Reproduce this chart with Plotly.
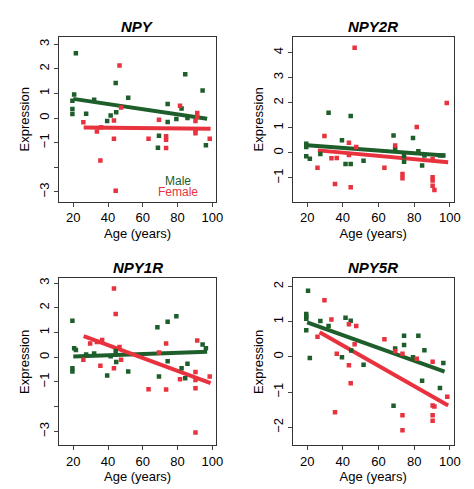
import plotly.graph_objects as go

GREEN = "#1d5e2b"
RED = "#e8333f"

# ---- data ----
npy_m_age = [19.5, 19.5, 19.5, 20.5, 21.5, 27.4, 32, 39.5, 41.5, 44.4, 44.7, 51.6, 68.7, 69.3, 74.3, 74.3, 79.3, 82.3, 84.4, 85.7, 94.4, 96.3]
npy_m_val = [0.17, 0.37, 0.7, 0.96, 2.63, 0.18, 0.74, -0.12, 0.1, 1.42, 0.24, 0.83, -1.21, -0.72, 0.57, -0.16, -0.04, 0.39, 1.78, 0.0, 1.12, -1.1]
npy_f_age = [25.8, 33.6, 36, 35.6, 43.4, 43.4, 46.6, 44.4, 47.5, 63.3, 69.3, 73.4, 73.4, 73.4, 81.4, 90.3, 90.3, 90.3, 91.3, 91.3, 98.5]
npy_f_val = [-0.17, -0.55, -0.37, -1.72, -0.1, -0.84, 2.13, -2.95, 0.43, -0.84, -0.07, -0.74, -0.88, -1.22, 0.5, -0.49, -0.62, -0.12, 0.21, 0.04, -0.84]
npy_m_fit = ([20, 97], [0.78, -0.03])
npy_f_fit = ([26, 99], [-0.38, -0.43])

npy2r_m_age = [19.5, 19.5, 19.5, 21.5, 27.4, 32, 39.5, 41.5, 44.4, 44.4, 51.6, 68.4, 69.3, 74.3, 74.3, 79.3, 82.3, 84.4, 85.7, 94.4, 96.3]
npy2r_m_val = [0.36, 0.23, -0.13, -0.23, -0.04, 1.6, 0.5, -0.44, 1.47, -0.44, -0.31, 0.69, 0.16, -0.13, -0.35, 0.59, 0.07, -0.5, -0.1, -0.1, -0.1]
npy2r_f_age = [25.8, 29.7, 33.6, 35.6, 36.6, 43.4, 43.4, 44.4, 46.6, 47.5, 63.3, 69.3, 73.4, 73.4, 81.4, 90.3, 90.3, 90.3, 91.3, 98.2, 90.3]
npy2r_f_val = [-0.59, 0.67, -0.21, -1.24, -0.2, 0.4, -0.08, -1.37, 4.19, 0.23, -0.59, 0.29, -0.84, -1.01, 1.03, -0.97, -1.1, -1.31, -1.48, 1.99, -0.24]
npy2r_m_fit = ([20, 97], [0.3, -0.1])
npy2r_f_fit = ([26, 99], [0.1, -0.37])

npy1r_m_age = [19.5, 19.5, 19.5, 20.5, 21.5, 27.4, 32, 39.5, 41.5, 44.4, 44.7, 51.6, 68.4, 69.3, 74.3, 74.3, 79.3, 82.3, 84.4, 85.7, 94.4, 96.3]
npy1r_m_val = [1.48, -0.44, -0.58, 0.36, 0.29, 0.11, 0.15, -0.74, 0.04, 0.25, -0.19, -0.58, 1.21, -0.78, 1.44, -0.16, 1.66, -0.44, -0.85, -0.26, 0.52, 0.36]
npy1r_f_age = [25.8, 29.7, 33.6, 35.6, 36.6, 43.4, 43.4, 44.4, 46.6, 47.5, 63.3, 69.3, 73.4, 73.4, 81.4, 90.3, 90.3, 90.3, 91.3, 90.3, 98.5]
npy1r_f_val = [-0.1, 0.56, 0.62, -0.34, 0.7, -0.44, 2.78, 1.75, 0.41, -0.1, -1.29, 0.19, 0.56, -1.3, -0.89, -0.6, -1.25, -3.04, 0.68, -0.92, -0.78]
npy1r_m_fit = ([20, 97], [0.03, 0.22])
npy1r_f_fit = ([26, 99], [0.85, -1.05])

npy5r_m_age = [19.5, 19.5, 19.5, 19.5, 20.5, 21.5, 27.4, 32, 39.5, 41.5, 44.4, 44.7, 51.6, 68.4, 69.3, 74.3, 74.3, 79.3, 82.3, 84.4, 85.7, 94.4, 96.3]
npy5r_m_val = [1.22, 1.14, 1.08, 0.76, 1.88, -0.03, 1.02, 0.88, -0.01, 1.11, 1.03, 0.18, -0.22, -1.39, 0.24, 0.6, 0.34, -0.01, 0.6, -0.68, 0.19, -0.88, -0.17]
npy5r_f_age = [25.8, 29.7, 33.6, 35.6, 36.6, 43.4, 43.4, 44.4, 46.6, 47.5, 63.3, 69.3, 73.4, 73.4, 73.4, 81.4, 90.3, 90.3, 90.3, 90.3, 91.3, 98.5]
npy5r_f_val = [0.57, 1.61, 1.06, -1.57, 0.09, 0.93, -0.24, -0.75, 0.36, 0.88, 0.5, 0.16, 0.09, -1.66, -2.08, -0.05, -0.14, -1.38, -1.66, -1.81, -1.41, -1.13]
npy5r_m_fit = ([20, 97], [0.98, -0.42])
npy5r_f_fit = ([27, 99], [0.7, -1.38])

panels = [
    ("NPY", npy_m_age, npy_m_val, npy_f_age, npy_f_val, npy_m_fit, npy_f_fit,
     [-3.4, 3.3], [3, 2, 1, 0, -1, -2, -3], ["3", "2", "1", "0", "\u22121", "", "\u22123"]),
    ("NPY2R", npy2r_m_age, npy2r_m_val, npy2r_f_age, npy2r_f_val, npy2r_m_fit, npy2r_f_fit,
     [-1.95, 4.63], [4, 3, 2, 1, 0, -1], ["4", "3", "2", "1", "0", "\u22121"]),
    ("NPY1R", npy1r_m_age, npy1r_m_val, npy1r_f_age, npy1r_f_val, npy1r_m_fit, npy1r_f_fit,
     [-3.56, 3.19], [3, 2, 1, 0, -1, -2, -3], ["3", "2", "1", "0", "\u22121", "", "\u22123"]),
    ("NPY5R", npy5r_m_age, npy5r_m_val, npy5r_f_age, npy5r_f_val, npy5r_m_fit, npy5r_f_fit,
     [-2.51, 2.23], [2, 1, 0, -1, -2], ["2", "1", "0", "\u22121", "\u22122"]),
]

xdoms = [[0.110, 0.445], [0.610, 0.954], [0.110, 0.445], [0.610, 0.954]]
ydoms = [[0.605, 0.943], [0.605, 0.943], [0.106, 0.448], [0.106, 0.448]]

fig = go.Figure()
font = dict(family="Liberation Sans, Arial", size=13, color="black")

for i, (name, ma, mv, fa, fv, mfit, ffit, yr, tv, tt) in enumerate(panels):
    n = "" if i == 0 else str(i + 1)
    xa, ya = "x" + n, "y" + n
    for fx, fy, c in [(mfit[0], mfit[1], GREEN), (ffit[0], ffit[1], RED)]:
        fig.add_trace(go.Scatter(x=fx, y=fy, mode="lines", line=dict(color=c, width=4),
                                 xaxis=xa, yaxis=ya, showlegend=False))
    fig.add_trace(go.Scatter(x=ma, y=mv, mode="markers", xaxis=xa, yaxis=ya, showlegend=False,
                             marker=dict(symbol="square", size=4.5, color=GREEN)))
    fig.add_trace(go.Scatter(x=fa, y=fv, mode="markers", xaxis=xa, yaxis=ya, showlegend=False,
                             marker=dict(symbol="square", size=4.5, color=RED)))
    axis_common = dict(showline=True, linecolor="#333", linewidth=1, mirror=True, ticks="outside",
                       ticklen=4, showgrid=False, zeroline=False, tickfont=font)
    fig.layout["xaxis" + n] = dict(axis_common, domain=xdoms[i], range=[12, 102],
                                   tickvals=[20, 40, 60, 80, 100], anchor=ya,
                                   title=dict(text="Age (years)", font=font, standoff=4))
    fig.layout["yaxis" + n] = dict(axis_common, domain=ydoms[i], range=yr, tickvals=tv,
                                   ticktext=tt, tickangle=-90, anchor=xa,
                                   title=dict(text="Expression", font=font, standoff=4))
    fig.add_annotation(text="<b><i>" + name + "</i></b>", xref=xa + " domain", yref=ya + " domain",
                       x=0.5, y=1.0, yanchor="bottom", showarrow=False,
                       font=dict(family="Liberation Sans, Arial", size=15, color="black"))

fig.add_annotation(text="Male", x=80, y=-2.55, xref="x", yref="y", showarrow=False,
                   font=dict(family="Liberation Sans, Arial", size=12, color=GREEN))
fig.add_annotation(text="Female", x=80, y=-3.0, xref="x", yref="y", showarrow=False,
                   font=dict(family="Liberation Sans, Arial", size=12, color=RED))

fig.update_layout(width=474, height=489, margin=dict(l=0, r=0, t=0, b=0),
                  plot_bgcolor="white", paper_bgcolor="white")

fig.write_html("out.html")
